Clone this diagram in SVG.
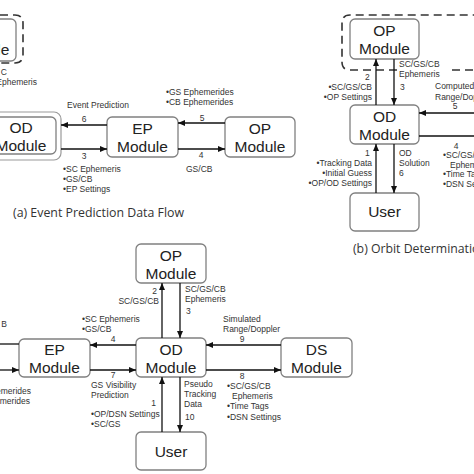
<svg xmlns="http://www.w3.org/2000/svg" width="474" height="474" viewBox="0 0 474 474">
<style>
.box{fill:#fff;stroke:#808080;stroke-width:1.3}
.hl{fill:none;stroke:#9a9a9a;stroke-width:1.2}
.dash{fill:none;stroke:#333;stroke-width:1.6;stroke-dasharray:8 5}
.mod{font-family:"Liberation Sans",Arial,sans-serif;font-size:15.5px;fill:#222;text-anchor:middle}
.lb{font-family:"Liberation Sans",Arial,sans-serif;font-size:8.5px;fill:#333}
.cap{font-family:"Open Sans","Noto Sans",sans-serif;font-size:12px;fill:#333}
.ln{stroke:#111;stroke-width:1.3;fill:none}
.ar{marker-end:url(#ah)}
.e{text-anchor:end}
.m{text-anchor:middle}
</style>
<defs>
<marker id="ah" markerUnits="userSpaceOnUse" markerWidth="8" markerHeight="6" refX="7" refY="3" orient="auto">
<path d="M0,0 L7,3 L0,6 z" fill="#111"/>
</marker>
</defs>
<rect width="474" height="474" fill="#fff"/>

<!-- top-left fragment -->
<g id="frag-tl">
<path class="dash" d="M0,15 H15 Q23,15 23,23 V55 Q23,63 15,63 H0"/>
<rect class="box" x="-60" y="19" width="76" height="42" rx="5"/>
<text class="mod" x="-16" y="55">Module</text>
<text class="lb e" x="7" y="75">C</text>
<text class="lb e" x="37" y="85">Ephemeris</text>
</g>

<!-- (a) -->
<g id="a-od">
<rect class="hl" x="-20" y="112" width="81" height="48" rx="7"/>
<rect class="box" x="-15" y="117" width="71" height="37" rx="5"/>
<text class="mod" x="21" y="133">OD</text>
<text class="mod" x="21" y="151">Module</text>
</g>
<g id="a-ep">
<rect class="box" x="107" y="117" width="71" height="40" rx="5"/>
<text class="mod" x="142.5" y="134">EP</text>
<text class="mod" x="142.5" y="152">Module</text>
</g>
<g id="a-op">
<rect class="box" x="225" y="117" width="70" height="40" rx="5"/>
<text class="mod" x="260" y="134">OP</text>
<text class="mod" x="260" y="152">Module</text>
</g>
<g id="a-conn">
<line class="ln ar" x1="107" y1="125" x2="61" y2="125"/>
<line class="ln ar" x1="61" y1="149" x2="107" y2="149"/>
<line class="ln ar" x1="225" y1="123" x2="178" y2="123"/>
<line class="ln ar" x1="178" y1="149" x2="225" y2="149"/>
<text class="lb" x="67" y="108">Event Prediction</text>
<text class="lb m" x="84" y="122">6</text>
<text class="lb m" x="84" y="159">3</text>
<text class="lb" x="63" y="172">•SC Ephemeris</text>
<text class="lb" x="63" y="182">•GS/CB</text>
<text class="lb" x="63" y="192">•EP Settings</text>
<text class="lb" x="166" y="95">•GS Ephemerides</text>
<text class="lb" x="166" y="105">•CB Ephemerides</text>
<text class="lb m" x="202" y="121">5</text>
<text class="lb m" x="201" y="158">4</text>
<text class="lb" x="186" y="172">GS/CB</text>
</g>
<text class="cap" x="13" y="217" textLength="171" lengthAdjust="spacingAndGlyphs">(a) Event Prediction Data Flow</text>

<!-- (b) -->
<g id="b-group">
<path class="dash" d="M397,70 H350 Q342,70 342,62 V23 Q342,15 350,15 H480 M452,70 H480"/>
</g>
<g id="b-op">
<rect class="box" x="350" y="19" width="69" height="40" rx="5"/>
<text class="mod" x="384.5" y="36">OP</text>
<text class="mod" x="384.5" y="54">Module</text>
</g>
<g id="b-od">
<rect class="box" x="350" y="105" width="69" height="39" rx="5"/>
<text class="mod" x="384.5" y="122">OD</text>
<text class="mod" x="384.5" y="140">Module</text>
</g>
<g id="b-user">
<rect class="box" x="350" y="193" width="69" height="38" rx="5"/>
<text class="mod" x="384.5" y="217">User</text>
</g>
<g id="b-conn">
<line class="ln ar" x1="376" y1="105" x2="376" y2="59"/>
<line class="ln ar" x1="394" y1="59" x2="394" y2="105"/>
<line class="ln ar" x1="376" y1="193" x2="376" y2="144"/>
<line class="ln ar" x1="394" y1="144" x2="394" y2="193"/>
<line class="ln ar" x1="480" y1="113" x2="419" y2="113"/>
<line class="ln" x1="419" y1="136" x2="480" y2="136"/>
<text class="lb" x="365" y="80">2</text>
<text class="lb e" x="372" y="90">•SC/GS/CB</text>
<text class="lb e" x="372" y="100">•OP Settings</text>
<text class="lb" x="399" y="67">SC/GS/CB</text>
<text class="lb" x="399" y="77">Ephemeris</text>
<text class="lb" x="400" y="90">3</text>
<text class="lb" x="435" y="89">Computed</text>
<text class="lb" x="435" y="100">Range/Doppler</text>
<text class="lb m" x="455" y="109">5</text>
<text class="lb m" x="456" y="149">4</text>
<text class="lb" x="443" y="158">•SC/GS/CB</text>
<text class="lb" x="450" y="168">Ephemeris</text>
<text class="lb" x="443" y="177">•Time Tags</text>
<text class="lb" x="443" y="187">•DSN Settings</text>
<text class="lb" x="365" y="156">1</text>
<text class="lb e" x="372" y="166">•Tracking Data</text>
<text class="lb e" x="372" y="176">•Initial Guess</text>
<text class="lb e" x="372" y="186">•OP/OD Settings</text>
<text class="lb" x="399" y="156">OD</text>
<text class="lb" x="399" y="166">Solution</text>
<text class="lb" x="399" y="176">6</text>
</g>
<text class="cap" x="353" y="253" textLength="134" lengthAdjust="spacingAndGlyphs">(b) Orbit Determination</text>

<!-- (c) -->
<g id="c-op">
<rect class="box" x="136" y="244" width="70" height="39" rx="5"/>
<text class="mod" x="171" y="261">OP</text>
<text class="mod" x="171" y="279">Module</text>
</g>
<g id="c-od">
<rect class="box" x="136" y="338" width="70" height="39" rx="5"/>
<text class="mod" x="171" y="355">OD</text>
<text class="mod" x="171" y="373">Module</text>
</g>
<g id="c-ep">
<rect class="box" x="19" y="339" width="71" height="38" rx="5"/>
<text class="mod" x="54.5" y="355">EP</text>
<text class="mod" x="54.5" y="373">Module</text>
</g>
<g id="c-ds">
<rect class="box" x="281" y="338" width="71" height="39" rx="5"/>
<text class="mod" x="316.5" y="355">DS</text>
<text class="mod" x="316.5" y="373">Module</text>
</g>
<g id="c-user">
<rect class="box" x="136" y="432" width="70" height="38" rx="5"/>
<text class="mod" x="171" y="457">User</text>
</g>
<g id="c-conn">
<line class="ln ar" x1="162" y1="338" x2="162" y2="283"/>
<line class="ln ar" x1="180" y1="283" x2="180" y2="338"/>
<line class="ln ar" x1="162" y1="432" x2="162" y2="377"/>
<line class="ln ar" x1="180" y1="377" x2="180" y2="432"/>
<line class="ln ar" x1="136" y1="345" x2="90" y2="345"/>
<line class="ln ar" x1="90" y1="370" x2="136" y2="370"/>
<line class="ln ar" x1="281" y1="345" x2="206" y2="345"/>
<line class="ln ar" x1="206" y1="370" x2="281" y2="370"/>
<line class="ln" x1="0" y1="344" x2="19" y2="344"/>
<line class="ln ar" x1="-5" y1="370" x2="19" y2="370"/>
<text class="lb e" x="157" y="294">2</text>
<text class="lb e" x="159" y="304">SC/GS/CB</text>
<text class="lb" x="185" y="292">SC/GS/CB</text>
<text class="lb" x="185" y="302">Ephemeris</text>
<text class="lb" x="186" y="314">3</text>
<text class="lb" x="82" y="322">•SC Ephemeris</text>
<text class="lb" x="82" y="332">•GS/CB</text>
<text class="lb m" x="113" y="342">4</text>
<text class="lb m" x="113" y="378">7</text>
<text class="lb" x="91" y="388">GS Visibility</text>
<text class="lb" x="91" y="398">Prediction</text>
<text class="lb e" x="156" y="406">1</text>
<text class="lb" x="91" y="417">•OP/DSN Settings</text>
<text class="lb" x="91" y="427">•SC/GS</text>
<text class="lb" x="184" y="387">Pseudo</text>
<text class="lb" x="184" y="397">Tracking</text>
<text class="lb" x="184" y="407">Data</text>
<text class="lb" x="185" y="420">10</text>
<text class="lb" x="223" y="322">Simulated</text>
<text class="lb" x="223" y="332">Range/Doppler</text>
<text class="lb m" x="242" y="342">9</text>
<text class="lb m" x="242" y="379">8</text>
<text class="lb" x="227" y="389">•SC/GS/CB</text>
<text class="lb" x="232" y="399">Ephemeris</text>
<text class="lb" x="227" y="409">•Time Tags</text>
<text class="lb" x="227" y="420">•DSN Settings</text>
<text class="lb e" x="7" y="327">B</text>
<text class="lb e" x="31" y="394">•GS Ephemerides</text>
<text class="lb e" x="30" y="404">•CB Ephemerides</text>
</g>
</svg>
